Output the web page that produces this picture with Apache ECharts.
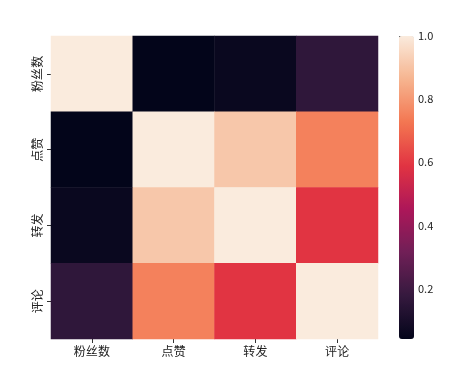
<!DOCTYPE html>
<html><head><meta charset="utf-8">
<script src="https://cdn.jsdelivr.net/npm/echarts@6/dist/echarts.min.js"></script>
<style>html,body{margin:0;padding:0;background:#fff}#c{width:474px;height:375px}</style>
</head><body><div id="c"></div>
<script>
var categories = ['粉丝数', '点赞', '转发', '评论'];
var row0 = [1.00, 0.04, 0.06, 0.16];
var row1 = [0.04, 1.00, 0.91, 0.75];
var row2 = [0.06, 0.91, 1.00, 0.59];
var row3 = [0.16, 0.75, 0.59, 1.00];
var rows = [row0, row1, row2, row3];
var colorbarTicks = [0.2, 0.4, 0.6, 0.8, 1.0];
var vMin = 0.04, vMax = 1.0;
var rocket = ['#03051a', '#35193e', '#701f57', '#ad1759', '#e13342', '#f37651', '#f6b48f', '#faebdd'];

var data = [];
rows.forEach(function (r, yi) { r.forEach(function (v, xi) { data.push([xi, yi, v]); }); });

var font = '"Noto Sans CJK SC", "DejaVu Sans", sans-serif';
var chart = echarts.init(document.getElementById('c'), null, {renderer: 'canvas'});
chart.setOption({
  animation: false,
  grid: [
    {left: 51, top: 36, width: 327, height: 303},
    {left: 399, top: 36, width: 15, height: 303}
  ],
  xAxis: [
    {type: 'category', data: categories, gridIndex: 0,
     axisLine: {show: false}, splitLine: {show: false}, splitArea: {show: false},
     axisTick: {show: true, alignWithLabel: true, length: 4, lineStyle: {color: '#333'}},
     axisLabel: {fontSize: 12, color: '#222', fontFamily: font, margin: 6}},
    {type: 'value', gridIndex: 1, show: false, min: 0, max: 1}
  ],
  yAxis: [
    {type: 'category', data: categories, gridIndex: 0, inverse: true,
     axisLine: {show: false}, splitLine: {show: false}, splitArea: {show: false},
     axisTick: {show: true, alignWithLabel: true, length: 4, lineStyle: {color: '#333'}},
     axisLabel: {fontSize: 12, color: '#222', fontFamily: font, rotate: 90, margin: 8}},
    {type: 'value', gridIndex: 1, position: 'right', min: vMin, max: vMax,
     axisLine: {show: false}, splitLine: {show: false},
     axisTick: {show: true, length: 4, lineStyle: {color: '#555'}, customValues: colorbarTicks},
     axisLabel: {fontSize: 11, color: '#222', fontFamily: font, margin: 4, customValues: colorbarTicks,
                 formatter: function (v) { return v.toFixed(1); }}}
  ],
  visualMap: {
    type: 'continuous', min: vMin, max: vMax, calculable: false, seriesIndex: 0,
    orient: 'vertical', left: 399, top: 36, itemWidth: 15, itemHeight: 303,
    padding: 0, text: null, showLabel: false, realtime: false,
    inRange: {color: rocket}, hoverLink: false
  },
  series: [{
    type: 'heatmap', xAxisIndex: 0, yAxisIndex: 0, data: data,
    itemStyle: {borderWidth: 0}, emphasis: {disabled: true}
  }]
});
</script></body></html>
